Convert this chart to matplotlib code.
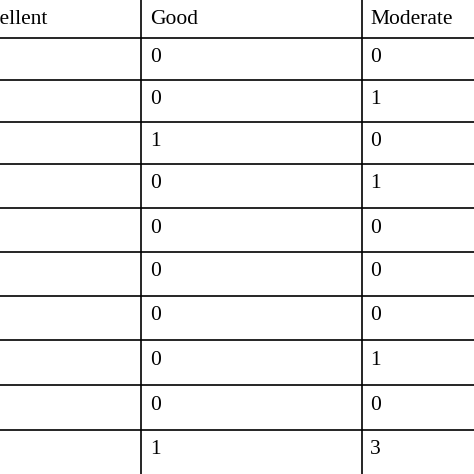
import matplotlib.pyplot as plt

headers = ["Excellent", "Good", "Moderate"]
good = [0, 0, 1, 0, 0, 0, 0, 0, 0, 1]
moderate = [0, 1, 0, 1, 0, 0, 0, 1, 0, 3]

# row borders in pixels (top of image = 0)
row_lines = [38, 80, 122, 164, 208, 252, 296, 340, 385, 430]
col_lines = [141, 362]

plt.rcParams["font.family"] = ["Liberation Serif", "DejaVu Serif"]
fig = plt.figure(figsize=(4.74, 4.74), dpi=100)
ax = fig.add_axes([0, 0, 1, 1])
ax.set_xlim(0, 474)
ax.set_ylim(474, 0)
ax.axis("off")

for y in row_lines:
    ax.plot([0, 474], [y, y], color="black", lw=1.2)
for x in col_lines:
    ax.plot([x, x], [0, 474], color="black", lw=1.2)

fs = 15.5
ax.text(48, 19, headers[0], ha="right", va="center", fontsize=fs, clip_on=True)
ax.text(150, 19, headers[1], ha="left", va="center", fontsize=fs, clip_on=True)
ax.text(370, 19, headers[2], ha="left", va="center", fontsize=fs, clip_on=True)

bounds = row_lines + [474]
for i in range(len(good)):
    yc = (bounds[i] + bounds[i + 1]) / 2 - 2
    ax.text(150, yc, str(good[i]), ha="left", va="center", fontsize=fs)
    ax.text(370, yc, str(moderate[i]), ha="left", va="center", fontsize=fs)

fig.savefig("out.png", dpi=100)
